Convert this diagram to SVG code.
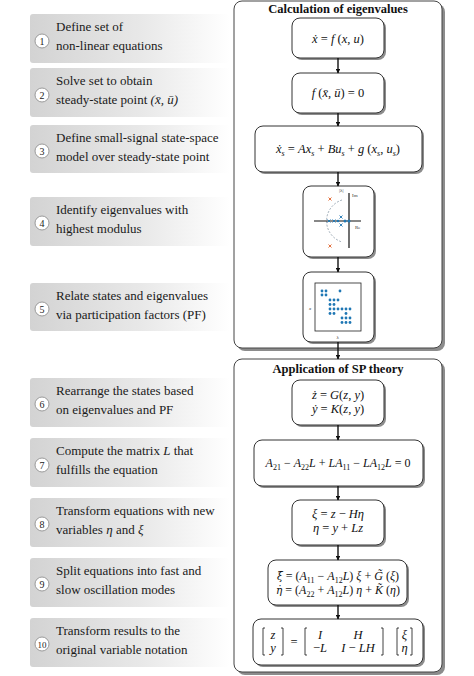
<svg xmlns="http://www.w3.org/2000/svg" width="474" height="676" viewBox="0 0 474 676">
<defs>
<linearGradient id="sg" x1="0" y1="0" x2="1" y2="0">
<stop offset="0" stop-color="#d3d3d3"/>
<stop offset="0.55" stop-color="#e8e8e8"/>
<stop offset="1" stop-color="#ffffff"/>
</linearGradient>
<marker id="ah" viewBox="0 0 8 8" refX="7" refY="4" markerWidth="4.5" markerHeight="4.5" orient="auto" markerUnits="userSpaceOnUse">
<path d="M0,0 L8,4 L0,8 z" fill="#111"/>
</marker>
</defs>
<style>
.step{fill:url(#sg);}
.num{fill:#fff;stroke:#9a9a9a;stroke-width:1;}
.nt{font-family:"Liberation Serif",serif;font-size:10px;fill:#222;text-anchor:middle;}
.st{font-family:"Liberation Serif",serif;font-size:13px;fill:#1a1a1a;}
.cont{fill:#fff;stroke:#444;stroke-width:1;}
.csh{fill:#8c8c8c;}
.box{fill:#fff;stroke:#333;stroke-width:1;}
.bsh{fill:#8c8c8c;}
.title{font-family:"Liberation Serif",serif;font-size:12.5px;font-weight:bold;fill:#111;text-anchor:middle;}
.m{font-family:"Liberation Serif",serif;font-size:12.5px;fill:#111;text-anchor:middle;}
.ms{font-family:"Liberation Serif",serif;font-size:12px;fill:#111;text-anchor:middle;}
.i{font-style:italic;}
.dv{font-family:"DejaVu Serif",serif;font-size:10.5px;}
.sb{font-size:8px;baseline-shift:-2.5px;}
.conn{stroke:#111;stroke-width:1.4;fill:none;}
.ax{stroke:#111;stroke-width:1.2;}
.bl{fill:#1f77b4;}
.bx{stroke:#1f77b4;stroke-width:0.9;}
.ox{stroke:#e0622a;stroke-width:0.9;}
.tiny{font-family:"Liberation Serif",serif;font-size:5px;fill:#333;}
</style>

<!-- Left steps -->
<g id="step1">
<rect class="step" x="30" y="14" width="200" height="49" rx="3"/>
<circle class="num" cx="42" cy="41" r="7"/><text class="nt" x="42" y="44.5">1</text>
<text class="st" x="56" y="31">Define set of</text>
<text class="st" x="56" y="50">non-linear equations</text>
</g>
<g id="step2">
<rect class="step" x="30" y="68" width="200" height="49" rx="3"/>
<circle class="num" cx="42" cy="95" r="7"/><text class="nt" x="42" y="98.5">2</text>
<text class="st" x="56" y="85">Solve set to obtain</text>
<text class="st" x="56" y="104">steady-state point <tspan class="i">(x̄, ū)</tspan></text>
</g>
<g id="step3">
<rect class="step" x="30" y="125" width="200" height="48" rx="3"/>
<circle class="num" cx="42" cy="151" r="7"/><text class="nt" x="42" y="154.5">3</text>
<text class="st" x="56" y="142">Define small-signal state-space</text>
<text class="st" x="56" y="161">model over steady-state point</text>
</g>
<g id="step4">
<rect class="step" x="30" y="197" width="200" height="49" rx="3"/>
<circle class="num" cx="42" cy="223" r="7"/><text class="nt" x="42" y="226.5">4</text>
<text class="st" x="56" y="214">Identify eigenvalues with</text>
<text class="st" x="56" y="233">highest modulus</text>
</g>
<g id="step5">
<rect class="step" x="30" y="283" width="200" height="48" rx="3"/>
<circle class="num" cx="42" cy="309" r="7"/><text class="nt" x="42" y="312.5">5</text>
<text class="st" x="56" y="300">Relate states and eigenvalues</text>
<text class="st" x="56" y="319">via participation factors (PF)</text>
</g>
<g id="step6">
<rect class="step" x="30" y="378" width="200" height="49" rx="3"/>
<circle class="num" cx="42" cy="404" r="7"/><text class="nt" x="42" y="407.5">6</text>
<text class="st" x="56" y="395">Rearrange the states based</text>
<text class="st" x="56" y="414">on eigenvalues and PF</text>
</g>
<g id="step7">
<rect class="step" x="30" y="438" width="200" height="49" rx="3"/>
<circle class="num" cx="42" cy="465" r="7"/><text class="nt" x="42" y="468.5">7</text>
<text class="st" x="56" y="455">Compute the matrix <tspan class="i">L</tspan> that</text>
<text class="st" x="56" y="474">fulfills the equation</text>
</g>
<g id="step8">
<rect class="step" x="30" y="498" width="200" height="49" rx="3"/>
<circle class="num" cx="42" cy="524" r="7"/><text class="nt" x="42" y="527.5">8</text>
<text class="st" x="56" y="515">Transform equations with new</text>
<text class="st" x="56" y="534">variables <tspan class="i">η</tspan> and <tspan class="i">ξ</tspan></text>
</g>
<g id="step9">
<rect class="step" x="30" y="558" width="200" height="49" rx="3"/>
<circle class="num" cx="42" cy="584" r="7"/><text class="nt" x="42" y="587.5">9</text>
<text class="st" x="56" y="575">Split equations into fast and</text>
<text class="st" x="56" y="594">slow oscillation modes</text>
</g>
<g id="step10">
<rect class="step" x="30" y="618" width="200" height="49" rx="3"/>
<circle class="num" cx="42" cy="644" r="7"/><text class="nt" x="42" y="647.5" style="font-size:9px">10</text>
<text class="st" x="56" y="635">Transform results to the</text>
<text class="st" x="56" y="654">original variable notation</text>
</g>

<!-- Containers -->
<g id="calc">
<rect class="csh" x="237" y="4" width="208" height="347" rx="8"/>
<rect class="cont" x="234" y="1" width="208" height="347" rx="8"/>
<text class="title" x="338" y="13">Calculation of eigenvalues</text>
</g>
<g id="sp">
<rect class="csh" x="237" y="362" width="208" height="313" rx="8"/>
<rect class="cont" x="234" y="359" width="208" height="313" rx="8"/>
<text class="title" x="338" y="373">Application of SP theory</text>
</g>

<!-- Boxes -->
<g id="b1">
<rect class="bsh" x="294" y="20" width="92" height="40" rx="8"/>
<rect class="box" x="292" y="18" width="92" height="40" rx="8"/>
<text class="m" x="338" y="43"><tspan class="i">ẋ</tspan> = <tspan class="i">f</tspan> (<tspan class="i">x</tspan>, <tspan class="i">u</tspan>)</text>
</g>
<g id="b2">
<rect class="bsh" x="294" y="75" width="92" height="40" rx="8"/>
<rect class="box" x="292" y="73" width="92" height="40" rx="8"/>
<text class="m" x="338" y="97"><tspan class="i">f</tspan> (<tspan class="i">x̄</tspan>, <tspan class="i">ū</tspan>) = 0</text>
</g>
<g id="b3">
<rect class="bsh" x="257" y="128" width="167" height="46" rx="8"/>
<rect class="box" x="255" y="126" width="167" height="46" rx="8"/>
<text class="m" x="338" y="153"><tspan class="i">ẋ</tspan><tspan class="sb i">s</tspan> = <tspan class="i">Ax</tspan><tspan class="sb i">s</tspan> + <tspan class="i">Bu</tspan><tspan class="sb i">s</tspan> + <tspan class="i">g</tspan> (<tspan class="i">x</tspan><tspan class="sb i">s</tspan>, <tspan class="i">u</tspan><tspan class="sb i">s</tspan>)</text>
</g>
<g id="b4">
<rect class="bsh" x="305" y="188" width="71" height="71" rx="8"/>
<rect class="box" x="303" y="186" width="71" height="71" rx="8"/>
<path d="M342 200 A22 22 0 0 0 342 242" fill="none" stroke="#8a9aa8" stroke-width="0.8" stroke-dasharray="2,1.5"/>
<line class="ax" x1="314" y1="221" x2="361" y2="221"/>
<line class="ax" x1="349" y1="193" x2="349" y2="248"/>
<text class="tiny" x="352" y="197">Im</text>
<text class="tiny" x="355" y="229">Re</text>
<text class="tiny" x="339" y="192">|λ|</text>
<g class="ox"><path d="M328.5 197.5 l3 3 M331.5 197.5 l-3 3"/><path d="M328.5 244.5 l3 3 M331.5 244.5 l-3 3"/></g>
<g class="bx"><path d="M327.5 219.5 l3 3 M330.5 219.5 l-3 3"/><path d="M332.5 219.5 l3 3 M335.5 219.5 l-3 3"/><path d="M339.5 215.5 l3 3 M342.5 215.5 l-3 3"/><path d="M339.5 223.5 l3 3 M342.5 223.5 l-3 3"/></g>
<circle class="bl" cx="338" cy="221" r="1.3"/><circle class="bl" cx="345" cy="221" r="1.5"/><circle class="bl" cx="349" cy="221" r="1.5"/>
</g>
<g id="b5">
<rect class="bsh" x="305" y="274" width="71" height="70" rx="8"/>
<rect class="box" x="303" y="272" width="71" height="70" rx="8"/>
<rect x="315" y="283" width="46" height="48" fill="#fff" stroke="#222" stroke-width="0.8"/>
<text class="tiny i" x="309" y="310">x</text>
<text class="tiny" x="336.5" y="339">λ</text>
<g class="bl">
<circle cx="322" cy="291" r="1.4"/><circle cx="326" cy="291" r="1.4"/><circle cx="340" cy="291" r="1.4"/>
<circle cx="322" cy="295" r="1.4"/><circle cx="326" cy="295" r="1.4"/>
<circle cx="330" cy="300" r="1.4"/><circle cx="334" cy="300" r="1.4"/><circle cx="338" cy="300" r="1.4"/>
<circle cx="330" cy="304.5" r="1.4"/><circle cx="334" cy="304.5" r="1.4"/>
<circle cx="330" cy="309" r="1.4"/><circle cx="334" cy="309" r="1.4"/><circle cx="338" cy="309" r="1.4"/><circle cx="342" cy="309" r="1.4"/><circle cx="346" cy="309" r="1.4"/><circle cx="350" cy="309" r="1.4"/>
<circle cx="330" cy="313.5" r="1.4"/><circle cx="334" cy="313.5" r="1.4"/><circle cx="346" cy="313.5" r="1.4"/>
<circle cx="342" cy="318" r="1.4"/><circle cx="346" cy="318" r="1.4"/><circle cx="350" cy="318" r="1.4"/>
<circle cx="342" cy="322.5" r="1.4"/><circle cx="346" cy="322.5" r="1.4"/><circle cx="350" cy="322.5" r="1.4"/>
</g>
</g>
<g id="b6">
<rect class="bsh" x="294" y="382" width="92" height="45" rx="8"/>
<rect class="box" x="292" y="380" width="92" height="45" rx="8"/>
<text class="m" x="338" y="399"><tspan class="i">ż</tspan> = <tspan class="i">G</tspan>(<tspan class="i">z</tspan>, <tspan class="i">y</tspan>)</text>
<text class="m" x="338" y="413"><tspan class="i">ẏ</tspan> = <tspan class="i">K</tspan>(<tspan class="i">z</tspan>, <tspan class="i">y</tspan>)</text>
</g>
<g id="b7">
<rect class="bsh" x="256" y="442" width="169" height="46" rx="8"/>
<rect class="box" x="254" y="440" width="169" height="46" rx="8"/>
<text class="m" x="338" y="467" style="font-size:12px"><tspan class="i">A</tspan><tspan class="sb">21</tspan> − <tspan class="i">A</tspan><tspan class="sb">22</tspan><tspan class="i">L</tspan> + <tspan class="i">LA</tspan><tspan class="sb">11</tspan> − <tspan class="i">LA</tspan><tspan class="sb">12</tspan><tspan class="i">L</tspan> = 0</text>
</g>
<g id="b8">
<rect class="bsh" x="294" y="502" width="92" height="45" rx="8"/>
<rect class="box" x="292" y="500" width="92" height="45" rx="8"/>
<text class="m" x="338" y="518"><tspan class="i">ξ</tspan> = <tspan class="i">z</tspan> − <tspan class="i">Hη</tspan></text>
<text class="m" x="338" y="532"><tspan class="i">η</tspan> = <tspan class="i">y</tspan> + <tspan class="i">Lz</tspan></text>
</g>
<g id="b9">
<rect class="bsh" x="270" y="562" width="139" height="45" rx="8"/>
<rect class="box" x="268" y="560" width="139" height="45" rx="8"/>
<text class="ms" x="338" y="580"><tspan class="i dv">ξ̇</tspan> = (<tspan class="i">A</tspan><tspan class="sb">11</tspan> − <tspan class="i">A</tspan><tspan class="sb">12</tspan><tspan class="i">L</tspan>) <tspan class="i">ξ</tspan> + <tspan class="i">G̃</tspan> (<tspan class="i">ξ</tspan>)</text>
<text class="ms" x="338" y="594"><tspan class="i dv">η̇</tspan> = (<tspan class="i">A</tspan><tspan class="sb">22</tspan> + <tspan class="i">A</tspan><tspan class="sb">12</tspan><tspan class="i">L</tspan>) <tspan class="i">η</tspan> + <tspan class="i">K̃</tspan> (<tspan class="i">η</tspan>)</text>
</g>
<g id="b10">
<rect class="bsh" x="255" y="621" width="170" height="46" rx="8"/>
<rect class="box" x="253" y="619" width="170" height="46" rx="8"/>
<g fill="none" stroke="#111" stroke-width="0.8">
<path d="M265 628 h-2 v27 h2"/><path d="M281 628 h2 v27 h-2"/>
<path d="M307 628 h-2 v27 h2"/><path d="M381 628 h2 v27 h-2"/>
<path d="M399 628 h-2 v27 h2"/><path d="M410 628 h2 v27 h-2"/>
</g>
<text class="m i" x="273" y="639">z</text>
<text class="m i" x="273" y="652">y</text>
<text class="m" x="294" y="646">=</text>
<text class="m i" x="320" y="639">I</text>
<text class="m i" x="358" y="639">H</text>
<text class="m" x="320" y="652">−<tspan class="i">L</tspan></text>
<text class="m" x="358" y="652"><tspan class="i">I</tspan> − <tspan class="i">LH</tspan></text>
<text class="m i" x="404.5" y="639">ξ</text>
<text class="m i" x="404.5" y="652">η</text>
</g>

<!-- Connectors -->
<g id="connectors">
<line class="conn" x1="338" y1="58" x2="338" y2="73" marker-end="url(#ah)"/>
<line class="conn" x1="338" y1="113" x2="338" y2="126" marker-end="url(#ah)"/>
<line class="conn" x1="338" y1="172" x2="338" y2="186" marker-end="url(#ah)"/>
<line class="conn" x1="338" y1="257" x2="338" y2="272" marker-end="url(#ah)"/>
<line class="conn" x1="338" y1="342" x2="338" y2="359" marker-end="url(#ah)"/>
<line class="conn" x1="338" y1="425" x2="338" y2="440" marker-end="url(#ah)"/>
<line class="conn" x1="338" y1="486" x2="338" y2="500" marker-end="url(#ah)"/>
<line class="conn" x1="338" y1="545" x2="338" y2="560" marker-end="url(#ah)"/>
<line class="conn" x1="338" y1="605" x2="338" y2="619" marker-end="url(#ah)"/>
</g>
</svg>
